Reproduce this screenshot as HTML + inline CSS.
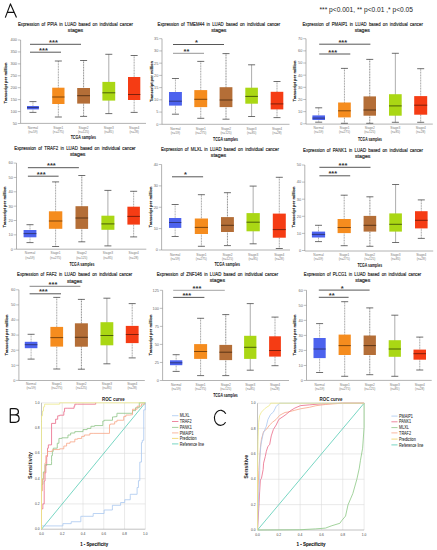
<!DOCTYPE html>
<html><head><meta charset="utf-8"><style>
html,body{margin:0;padding:0;background:#fff;}
svg{display:block;font-family:"Liberation Sans", sans-serif;}
</style></head><body>
<svg width="437" height="550" viewBox="0 0 437 550">
<rect width="437" height="550" fill="#fff"/>
<text transform="translate(17.9,25.5) scale(0.7239,1)" font-size="6.0" word-spacing="1.4" fill="#1a1a1a" stroke="#1a1a1a" stroke-width="0.16">Expression of PPIA in LUAD based on individual cancer</text>
<text transform="translate(75.5,32) scale(0.8687,1)" font-size="6.0" text-anchor="middle" fill="#1a1a1a" stroke="#1a1a1a" stroke-width="0.16">stages</text>
<path d="M20.6 40V123.4H146" stroke="#8a8a8a" stroke-width="0.65" fill="none"/>
<line x1="17.8" y1="40" x2="20.6" y2="40" stroke="#888" stroke-width="0.55"/>
<text x="17" y="41.35" font-size="3.9" text-anchor="end" fill="#6a6a6a">400</text>
<line x1="17.8" y1="51.93" x2="20.6" y2="51.93" stroke="#888" stroke-width="0.55"/>
<text x="17" y="53.28" font-size="3.9" text-anchor="end" fill="#6a6a6a">350</text>
<line x1="17.8" y1="63.86" x2="20.6" y2="63.86" stroke="#888" stroke-width="0.55"/>
<text x="17" y="65.21" font-size="3.9" text-anchor="end" fill="#6a6a6a">300</text>
<line x1="17.8" y1="75.79" x2="20.6" y2="75.79" stroke="#888" stroke-width="0.55"/>
<text x="17" y="77.14" font-size="3.9" text-anchor="end" fill="#6a6a6a">250</text>
<line x1="17.8" y1="87.71" x2="20.6" y2="87.71" stroke="#888" stroke-width="0.55"/>
<text x="17" y="89.06" font-size="3.9" text-anchor="end" fill="#6a6a6a">200</text>
<line x1="17.8" y1="99.64" x2="20.6" y2="99.64" stroke="#888" stroke-width="0.55"/>
<text x="17" y="100.99" font-size="3.9" text-anchor="end" fill="#6a6a6a">150</text>
<line x1="17.8" y1="111.57" x2="20.6" y2="111.57" stroke="#888" stroke-width="0.55"/>
<text x="17" y="112.92" font-size="3.9" text-anchor="end" fill="#6a6a6a">100</text>
<line x1="17.8" y1="123.5" x2="20.6" y2="123.5" stroke="#888" stroke-width="0.55"/>
<text x="17" y="124.85" font-size="3.9" text-anchor="end" fill="#6a6a6a">50</text>
<text transform="translate(7.2,83) rotate(-90)" font-size="4.4" font-weight="bold" text-anchor="middle" fill="#111" stroke="#111" stroke-width="0.12" textLength="41" lengthAdjust="spacingAndGlyphs">Transcript per million</text>
<line x1="30" y1="44.3" x2="81" y2="44.3" stroke="#444" stroke-width="0.9"/>
<text x="53.5" y="44.8" font-size="7.5" font-weight="bold" text-anchor="middle" fill="#333">***</text>
<line x1="30" y1="52.2" x2="61" y2="52.2" stroke="#444" stroke-width="0.9"/>
<text x="43.5" y="52.7" font-size="7.5" font-weight="bold" text-anchor="middle" fill="#333">***</text>
<line x1="32.95" y1="101.6" x2="32.95" y2="112.4" stroke="#888" stroke-width="0.7" stroke-dasharray="1 0.6"/>
<line x1="29.45" y1="101.6" x2="36.45" y2="101.6" stroke="#4a4a4a" stroke-width="0.8"/>
<line x1="29.45" y1="112.4" x2="36.45" y2="112.4" stroke="#4a4a4a" stroke-width="0.8"/>
<rect x="27" y="106" width="11.9" height="3.4" fill="#4c62ee"/>
<line x1="27" y1="107.6" x2="38.9" y2="107.6" stroke="#2a2f6a" stroke-width="0.85"/>
<text x="32.95" y="128.7" font-size="3.2" text-anchor="middle" fill="#7a7a7a">Normal</text>
<text x="32.95" y="132.6" font-size="3.2" text-anchor="middle" fill="#7a7a7a">(n=59)</text>
<line x1="58.35" y1="61" x2="58.35" y2="117" stroke="#777" stroke-width="0.7" stroke-dasharray="1 0.6"/>
<line x1="54.85" y1="61" x2="61.85" y2="61" stroke="#4a4a4a" stroke-width="0.8"/>
<line x1="54.85" y1="117" x2="61.85" y2="117" stroke="#4a4a4a" stroke-width="0.8"/>
<rect x="52.2" y="87.7" width="12.3" height="16.3" fill="#f58c1e"/>
<line x1="52.2" y1="97" x2="64.5" y2="97" stroke="#6a3a08" stroke-width="0.85"/>
<text x="58.35" y="128.7" font-size="3.2" text-anchor="middle" fill="#7a7a7a">Stage1</text>
<text x="58.35" y="132.6" font-size="3.2" text-anchor="middle" fill="#7a7a7a">(n=275)</text>
<line x1="83.6" y1="60.5" x2="83.6" y2="116.4" stroke="#555" stroke-width="0.7" stroke-dasharray="1 0.6"/>
<line x1="80.1" y1="60.5" x2="87.1" y2="60.5" stroke="#4a4a4a" stroke-width="0.8"/>
<line x1="80.1" y1="116.4" x2="87.1" y2="116.4" stroke="#4a4a4a" stroke-width="0.8"/>
<rect x="77.2" y="88" width="12.8" height="15.6" fill="#b46e37"/>
<line x1="77.2" y1="95.7" x2="90" y2="95.7" stroke="#4a2a10" stroke-width="0.85"/>
<text x="83.6" y="128.7" font-size="3.2" text-anchor="middle" fill="#7a7a7a">Stage2</text>
<text x="83.6" y="132.6" font-size="3.2" text-anchor="middle" fill="#7a7a7a">(n=125)</text>
<line x1="108.8" y1="54.3" x2="108.8" y2="113.6" stroke="#8a8a8a" stroke-width="0.7"/>
<line x1="105.3" y1="54.3" x2="112.3" y2="54.3" stroke="#4a4a4a" stroke-width="0.8"/>
<line x1="105.3" y1="113.6" x2="112.3" y2="113.6" stroke="#4a4a4a" stroke-width="0.8"/>
<rect x="102.4" y="81.9" width="12.8" height="18.7" fill="#aad714"/>
<line x1="102.4" y1="92.8" x2="115.2" y2="92.8" stroke="#3a4a05" stroke-width="0.85"/>
<text x="108.8" y="128.7" font-size="3.2" text-anchor="middle" fill="#7a7a7a">Stage3</text>
<text x="108.8" y="132.6" font-size="3.2" text-anchor="middle" fill="#7a7a7a">(n=85)</text>
<line x1="134.15" y1="55.5" x2="134.15" y2="112.4" stroke="#777" stroke-width="0.7" stroke-dasharray="1 0.6"/>
<line x1="130.65" y1="55.5" x2="137.65" y2="55.5" stroke="#4a4a4a" stroke-width="0.8"/>
<line x1="130.65" y1="112.4" x2="137.65" y2="112.4" stroke="#4a4a4a" stroke-width="0.8"/>
<rect x="128" y="77" width="12.3" height="23" fill="#f53c14"/>
<line x1="128" y1="94.5" x2="140.3" y2="94.5" stroke="#6a1a08" stroke-width="0.85"/>
<text x="134.15" y="128.7" font-size="3.2" text-anchor="middle" fill="#7a7a7a">Stage4</text>
<text x="134.15" y="132.6" font-size="3.2" text-anchor="middle" fill="#7a7a7a">(n=28)</text>
<text x="70.7" y="139.2" font-size="5" font-weight="bold" textLength="25.3" lengthAdjust="spacingAndGlyphs" fill="#111">TCGA samples</text>
<text transform="translate(157.5,25.5) scale(0.7234,1)" font-size="6.0" word-spacing="1.4" fill="#1a1a1a" stroke="#1a1a1a" stroke-width="0.16">Expression of TMEM44 in LUAD based on individual cancer</text>
<text transform="translate(218.8,31.6) scale(0.8681,1)" font-size="6.0" text-anchor="middle" fill="#1a1a1a" stroke="#1a1a1a" stroke-width="0.16">stages</text>
<path d="M162 38.7V124.3H289.5" stroke="#8a8a8a" stroke-width="0.65" fill="none"/>
<line x1="159.2" y1="38.7" x2="162" y2="38.7" stroke="#888" stroke-width="0.55"/>
<text x="158.4" y="40.05" font-size="3.9" text-anchor="end" fill="#6a6a6a">35</text>
<line x1="159.2" y1="50.93" x2="162" y2="50.93" stroke="#888" stroke-width="0.55"/>
<text x="158.4" y="52.28" font-size="3.9" text-anchor="end" fill="#6a6a6a">30</text>
<line x1="159.2" y1="63.16" x2="162" y2="63.16" stroke="#888" stroke-width="0.55"/>
<text x="158.4" y="64.51" font-size="3.9" text-anchor="end" fill="#6a6a6a">25</text>
<line x1="159.2" y1="75.39" x2="162" y2="75.39" stroke="#888" stroke-width="0.55"/>
<text x="158.4" y="76.74" font-size="3.9" text-anchor="end" fill="#6a6a6a">20</text>
<line x1="159.2" y1="87.61" x2="162" y2="87.61" stroke="#888" stroke-width="0.55"/>
<text x="158.4" y="88.96" font-size="3.9" text-anchor="end" fill="#6a6a6a">15</text>
<line x1="159.2" y1="99.84" x2="162" y2="99.84" stroke="#888" stroke-width="0.55"/>
<text x="158.4" y="101.19" font-size="3.9" text-anchor="end" fill="#6a6a6a">10</text>
<line x1="159.2" y1="112.07" x2="162" y2="112.07" stroke="#888" stroke-width="0.55"/>
<text x="158.4" y="113.42" font-size="3.9" text-anchor="end" fill="#6a6a6a">5</text>
<line x1="159.2" y1="124.3" x2="162" y2="124.3" stroke="#888" stroke-width="0.55"/>
<text x="158.4" y="125.65" font-size="3.9" text-anchor="end" fill="#6a6a6a">0</text>
<text transform="translate(152.8,81.5) rotate(-90)" font-size="4.4" font-weight="bold" text-anchor="middle" fill="#111" stroke="#111" stroke-width="0.12" textLength="41" lengthAdjust="spacingAndGlyphs">Transcript per million</text>
<line x1="173" y1="44.5" x2="224" y2="44.5" stroke="#444" stroke-width="0.9"/>
<text x="196.5" y="45" font-size="7.5" font-weight="bold" text-anchor="middle" fill="#333">*</text>
<line x1="173" y1="53.3" x2="204" y2="53.3" stroke="#8a8a8a" stroke-width="0.9"/>
<text x="186.5" y="53.8" font-size="7.5" font-weight="bold" text-anchor="middle" fill="#333">**</text>
<line x1="175.45" y1="78.5" x2="175.45" y2="114.2" stroke="#888" stroke-width="0.7" stroke-dasharray="1 0.6"/>
<line x1="171.95" y1="78.5" x2="178.95" y2="78.5" stroke="#4a4a4a" stroke-width="0.8"/>
<line x1="171.95" y1="114.2" x2="178.95" y2="114.2" stroke="#4a4a4a" stroke-width="0.8"/>
<rect x="169" y="92" width="12.9" height="13.6" fill="#4c62ee"/>
<line x1="169" y1="101.2" x2="181.9" y2="101.2" stroke="#2a2f6a" stroke-width="0.85"/>
<text x="175.45" y="129.6" font-size="3.2" text-anchor="middle" fill="#7a7a7a">Normal</text>
<text x="175.45" y="133.6" font-size="3.2" text-anchor="middle" fill="#7a7a7a">(n=59)</text>
<line x1="200.75" y1="61.4" x2="200.75" y2="118.3" stroke="#777" stroke-width="0.7" stroke-dasharray="1 0.6"/>
<line x1="197.25" y1="61.4" x2="204.25" y2="61.4" stroke="#4a4a4a" stroke-width="0.8"/>
<line x1="197.25" y1="118.3" x2="204.25" y2="118.3" stroke="#4a4a4a" stroke-width="0.8"/>
<rect x="194.3" y="90.1" width="12.9" height="17" fill="#f58c1e"/>
<line x1="194.3" y1="99.3" x2="207.2" y2="99.3" stroke="#6a3a08" stroke-width="0.85"/>
<text x="200.75" y="129.6" font-size="3.2" text-anchor="middle" fill="#7a7a7a">Stage1</text>
<text x="200.75" y="133.6" font-size="3.2" text-anchor="middle" fill="#7a7a7a">(n=275)</text>
<line x1="226" y1="53.6" x2="226" y2="119.2" stroke="#555" stroke-width="0.7" stroke-dasharray="1 0.6"/>
<line x1="222.5" y1="53.6" x2="229.5" y2="53.6" stroke="#4a4a4a" stroke-width="0.8"/>
<line x1="222.5" y1="119.2" x2="229.5" y2="119.2" stroke="#4a4a4a" stroke-width="0.8"/>
<rect x="219.6" y="87.2" width="12.8" height="19.9" fill="#b46e37"/>
<line x1="219.6" y1="100" x2="232.4" y2="100" stroke="#4a2a10" stroke-width="0.85"/>
<text x="226" y="129.6" font-size="3.2" text-anchor="middle" fill="#7a7a7a">Stage2</text>
<text x="226" y="133.6" font-size="3.2" text-anchor="middle" fill="#7a7a7a">(n=125)</text>
<line x1="251.6" y1="64.8" x2="251.6" y2="116.5" stroke="#8a8a8a" stroke-width="0.7"/>
<line x1="248.1" y1="64.8" x2="255.1" y2="64.8" stroke="#4a4a4a" stroke-width="0.8"/>
<line x1="248.1" y1="116.5" x2="255.1" y2="116.5" stroke="#4a4a4a" stroke-width="0.8"/>
<rect x="245.3" y="87.7" width="12.6" height="16" fill="#aad714"/>
<line x1="245.3" y1="96.4" x2="257.9" y2="96.4" stroke="#3a4a05" stroke-width="0.85"/>
<text x="251.6" y="129.6" font-size="3.2" text-anchor="middle" fill="#7a7a7a">Stage3</text>
<text x="251.6" y="133.6" font-size="3.2" text-anchor="middle" fill="#7a7a7a">(n=85)</text>
<line x1="277" y1="81.5" x2="277" y2="117.6" stroke="#777" stroke-width="0.7" stroke-dasharray="1 0.6"/>
<line x1="273.5" y1="81.5" x2="280.5" y2="81.5" stroke="#4a4a4a" stroke-width="0.8"/>
<line x1="273.5" y1="117.6" x2="280.5" y2="117.6" stroke="#4a4a4a" stroke-width="0.8"/>
<rect x="270.7" y="91.8" width="12.6" height="17.6" fill="#f53c14"/>
<line x1="270.7" y1="103.9" x2="283.3" y2="103.9" stroke="#6a1a08" stroke-width="0.85"/>
<text x="277" y="129.6" font-size="3.2" text-anchor="middle" fill="#7a7a7a">Stage4</text>
<text x="277" y="133.6" font-size="3.2" text-anchor="middle" fill="#7a7a7a">(n=28)</text>
<text x="213" y="140.6" font-size="5" font-weight="bold" textLength="25" lengthAdjust="spacingAndGlyphs" fill="#111">TCGA samples</text>
<text transform="translate(302.4,25.5) scale(0.7175,1)" font-size="6.0" word-spacing="1.4" fill="#1a1a1a" stroke="#1a1a1a" stroke-width="0.16">Expression of PMAIP1 in LUAD based on individual cancer</text>
<text transform="translate(362.3,31.8) scale(0.8610,1)" font-size="6.0" text-anchor="middle" fill="#1a1a1a" stroke="#1a1a1a" stroke-width="0.16">stages</text>
<path d="M306 38.7V124.1H432.8" stroke="#8a8a8a" stroke-width="0.65" fill="none"/>
<line x1="303.2" y1="38.7" x2="306" y2="38.7" stroke="#888" stroke-width="0.55"/>
<text x="302.4" y="40.05" font-size="3.9" text-anchor="end" fill="#6a6a6a">70</text>
<line x1="303.2" y1="50.86" x2="306" y2="50.86" stroke="#888" stroke-width="0.55"/>
<text x="302.4" y="52.21" font-size="3.9" text-anchor="end" fill="#6a6a6a">60</text>
<line x1="303.2" y1="63.01" x2="306" y2="63.01" stroke="#888" stroke-width="0.55"/>
<text x="302.4" y="64.36" font-size="3.9" text-anchor="end" fill="#6a6a6a">50</text>
<line x1="303.2" y1="75.17" x2="306" y2="75.17" stroke="#888" stroke-width="0.55"/>
<text x="302.4" y="76.52" font-size="3.9" text-anchor="end" fill="#6a6a6a">40</text>
<line x1="303.2" y1="87.33" x2="306" y2="87.33" stroke="#888" stroke-width="0.55"/>
<text x="302.4" y="88.68" font-size="3.9" text-anchor="end" fill="#6a6a6a">30</text>
<line x1="303.2" y1="99.49" x2="306" y2="99.49" stroke="#888" stroke-width="0.55"/>
<text x="302.4" y="100.84" font-size="3.9" text-anchor="end" fill="#6a6a6a">20</text>
<line x1="303.2" y1="111.64" x2="306" y2="111.64" stroke="#888" stroke-width="0.55"/>
<text x="302.4" y="112.99" font-size="3.9" text-anchor="end" fill="#6a6a6a">10</text>
<line x1="303.2" y1="123.8" x2="306" y2="123.8" stroke="#888" stroke-width="0.55"/>
<text x="302.4" y="125.15" font-size="3.9" text-anchor="end" fill="#6a6a6a">0</text>
<text transform="translate(296.2,81) rotate(-90)" font-size="4.4" font-weight="bold" text-anchor="middle" fill="#111" stroke="#111" stroke-width="0.12" textLength="41" lengthAdjust="spacingAndGlyphs">Transcript per million</text>
<line x1="319.2" y1="44.2" x2="370.4" y2="44.2" stroke="#444" stroke-width="0.9"/>
<text x="342.8" y="44.7" font-size="7.5" font-weight="bold" text-anchor="middle" fill="#333">***</text>
<line x1="319.2" y1="54" x2="350.3" y2="54" stroke="#444" stroke-width="0.9"/>
<text x="332.75" y="54.5" font-size="7.5" font-weight="bold" text-anchor="middle" fill="#333">***</text>
<line x1="318.7" y1="107.8" x2="318.7" y2="122.2" stroke="#888" stroke-width="0.7" stroke-dasharray="1 0.6"/>
<line x1="315.2" y1="107.8" x2="322.2" y2="107.8" stroke="#4a4a4a" stroke-width="0.8"/>
<line x1="315.2" y1="122.2" x2="322.2" y2="122.2" stroke="#4a4a4a" stroke-width="0.8"/>
<rect x="312.4" y="115.4" width="12.6" height="4.6" fill="#4c62ee"/>
<line x1="312.4" y1="118.1" x2="325" y2="118.1" stroke="#2a2f6a" stroke-width="0.85"/>
<text x="318.7" y="129" font-size="3.2" text-anchor="middle" fill="#7a7a7a">Normal</text>
<text x="318.7" y="133.3" font-size="3.2" text-anchor="middle" fill="#7a7a7a">(n=59)</text>
<line x1="344.45" y1="68.4" x2="344.45" y2="123.3" stroke="#777" stroke-width="0.7" stroke-dasharray="1 0.6"/>
<line x1="340.95" y1="68.4" x2="347.95" y2="68.4" stroke="#4a4a4a" stroke-width="0.8"/>
<line x1="340.95" y1="123.3" x2="347.95" y2="123.3" stroke="#4a4a4a" stroke-width="0.8"/>
<rect x="338.1" y="102.5" width="12.7" height="14.9" fill="#f58c1e"/>
<line x1="338.1" y1="110.8" x2="350.8" y2="110.8" stroke="#6a3a08" stroke-width="0.85"/>
<text x="344.45" y="129" font-size="3.2" text-anchor="middle" fill="#7a7a7a">Stage1</text>
<text x="344.45" y="133.3" font-size="3.2" text-anchor="middle" fill="#7a7a7a">(n=275)</text>
<line x1="369.75" y1="59.4" x2="369.75" y2="123.3" stroke="#555" stroke-width="0.7" stroke-dasharray="1 0.6"/>
<line x1="366.25" y1="59.4" x2="373.25" y2="59.4" stroke="#4a4a4a" stroke-width="0.8"/>
<line x1="366.25" y1="123.3" x2="373.25" y2="123.3" stroke="#4a4a4a" stroke-width="0.8"/>
<rect x="363.5" y="96.4" width="12.5" height="19.3" fill="#b46e37"/>
<line x1="363.5" y1="110" x2="376" y2="110" stroke="#4a2a10" stroke-width="0.85"/>
<text x="369.75" y="129" font-size="3.2" text-anchor="middle" fill="#7a7a7a">Stage2</text>
<text x="369.75" y="133.3" font-size="3.2" text-anchor="middle" fill="#7a7a7a">(n=125)</text>
<line x1="395.35" y1="53.3" x2="395.35" y2="122.3" stroke="#8a8a8a" stroke-width="0.7"/>
<line x1="391.85" y1="53.3" x2="398.85" y2="53.3" stroke="#4a4a4a" stroke-width="0.8"/>
<line x1="391.85" y1="122.3" x2="398.85" y2="122.3" stroke="#4a4a4a" stroke-width="0.8"/>
<rect x="389" y="94.2" width="12.7" height="21.5" fill="#aad714"/>
<line x1="389" y1="105.9" x2="401.7" y2="105.9" stroke="#3a4a05" stroke-width="0.85"/>
<text x="395.35" y="129" font-size="3.2" text-anchor="middle" fill="#7a7a7a">Stage3</text>
<text x="395.35" y="133.3" font-size="3.2" text-anchor="middle" fill="#7a7a7a">(n=85)</text>
<line x1="420.7" y1="68.7" x2="420.7" y2="122.3" stroke="#777" stroke-width="0.7" stroke-dasharray="1 0.6"/>
<line x1="417.2" y1="68.7" x2="424.2" y2="68.7" stroke="#4a4a4a" stroke-width="0.8"/>
<line x1="417.2" y1="122.3" x2="424.2" y2="122.3" stroke="#4a4a4a" stroke-width="0.8"/>
<rect x="414.2" y="96.1" width="13" height="18.6" fill="#f53c14"/>
<line x1="414.2" y1="105.2" x2="427.2" y2="105.2" stroke="#6a1a08" stroke-width="0.85"/>
<text x="420.7" y="129" font-size="3.2" text-anchor="middle" fill="#7a7a7a">Stage4</text>
<text x="420.7" y="133.3" font-size="3.2" text-anchor="middle" fill="#7a7a7a">(n=28)</text>
<text x="358" y="140.7" font-size="5" font-weight="bold" textLength="24" lengthAdjust="spacingAndGlyphs" fill="#111">TCGA samples</text>
<text transform="translate(14.2,150.1) scale(0.7371,1)" font-size="6.0" word-spacing="1.4" fill="#1a1a1a" stroke="#1a1a1a" stroke-width="0.16">Expression of TRAF2 in LUAD based on individual cancer</text>
<text transform="translate(77.7,156) scale(0.8846,1)" font-size="6.0" text-anchor="middle" fill="#1a1a1a" stroke="#1a1a1a" stroke-width="0.16">stages</text>
<path d="M16.5 163.1V249.2H146.3" stroke="#8a8a8a" stroke-width="0.65" fill="none"/>
<line x1="13.7" y1="163.1" x2="16.5" y2="163.1" stroke="#888" stroke-width="0.55"/>
<text x="12.9" y="164.45" font-size="3.9" text-anchor="end" fill="#6a6a6a">60</text>
<line x1="13.7" y1="177.45" x2="16.5" y2="177.45" stroke="#888" stroke-width="0.55"/>
<text x="12.9" y="178.8" font-size="3.9" text-anchor="end" fill="#6a6a6a">50</text>
<line x1="13.7" y1="191.8" x2="16.5" y2="191.8" stroke="#888" stroke-width="0.55"/>
<text x="12.9" y="193.15" font-size="3.9" text-anchor="end" fill="#6a6a6a">40</text>
<line x1="13.7" y1="206.15" x2="16.5" y2="206.15" stroke="#888" stroke-width="0.55"/>
<text x="12.9" y="207.5" font-size="3.9" text-anchor="end" fill="#6a6a6a">30</text>
<line x1="13.7" y1="220.5" x2="16.5" y2="220.5" stroke="#888" stroke-width="0.55"/>
<text x="12.9" y="221.85" font-size="3.9" text-anchor="end" fill="#6a6a6a">20</text>
<line x1="13.7" y1="234.85" x2="16.5" y2="234.85" stroke="#888" stroke-width="0.55"/>
<text x="12.9" y="236.2" font-size="3.9" text-anchor="end" fill="#6a6a6a">10</text>
<line x1="13.7" y1="249.2" x2="16.5" y2="249.2" stroke="#888" stroke-width="0.55"/>
<text x="12.9" y="250.55" font-size="3.9" text-anchor="end" fill="#6a6a6a">0</text>
<text transform="translate(6.4,207) rotate(-90)" font-size="4.4" font-weight="bold" text-anchor="middle" fill="#111" stroke="#111" stroke-width="0.12" textLength="41" lengthAdjust="spacingAndGlyphs">Transcript per million</text>
<line x1="27.9" y1="167.7" x2="78.9" y2="167.7" stroke="#444" stroke-width="0.9"/>
<text x="51.4" y="168.2" font-size="7.5" font-weight="bold" text-anchor="middle" fill="#333">***</text>
<line x1="27.9" y1="176.2" x2="58.6" y2="176.2" stroke="#444" stroke-width="0.9"/>
<text x="41.25" y="176.7" font-size="7.5" font-weight="bold" text-anchor="middle" fill="#333">***</text>
<line x1="30" y1="224.7" x2="30" y2="242.6" stroke="#888" stroke-width="0.7" stroke-dasharray="1 0.6"/>
<line x1="26.5" y1="224.7" x2="33.5" y2="224.7" stroke="#4a4a4a" stroke-width="0.8"/>
<line x1="26.5" y1="242.6" x2="33.5" y2="242.6" stroke="#4a4a4a" stroke-width="0.8"/>
<rect x="23.6" y="230" width="12.8" height="7.3" fill="#4c62ee"/>
<line x1="23.6" y1="233.6" x2="36.4" y2="233.6" stroke="#2a2f6a" stroke-width="0.85"/>
<text x="30" y="254.3" font-size="3.2" text-anchor="middle" fill="#7a7a7a">Normal</text>
<text x="30" y="258.7" font-size="3.2" text-anchor="middle" fill="#7a7a7a">(n=59)</text>
<line x1="55.6" y1="181.9" x2="55.6" y2="246.5" stroke="#777" stroke-width="0.7" stroke-dasharray="1 0.6"/>
<line x1="52.1" y1="181.9" x2="59.1" y2="181.9" stroke="#4a4a4a" stroke-width="0.8"/>
<line x1="52.1" y1="246.5" x2="59.1" y2="246.5" stroke="#4a4a4a" stroke-width="0.8"/>
<rect x="48.9" y="211.3" width="13.4" height="17.5" fill="#f58c1e"/>
<line x1="48.9" y1="221" x2="62.3" y2="221" stroke="#6a3a08" stroke-width="0.85"/>
<text x="55.6" y="254.3" font-size="3.2" text-anchor="middle" fill="#7a7a7a">Stage1</text>
<text x="55.6" y="258.7" font-size="3.2" text-anchor="middle" fill="#7a7a7a">(n=275)</text>
<line x1="81.8" y1="175.5" x2="81.8" y2="241.8" stroke="#555" stroke-width="0.7" stroke-dasharray="1 0.6"/>
<line x1="78.3" y1="175.5" x2="85.3" y2="175.5" stroke="#4a4a4a" stroke-width="0.8"/>
<line x1="78.3" y1="241.8" x2="85.3" y2="241.8" stroke="#4a4a4a" stroke-width="0.8"/>
<rect x="75.5" y="206.2" width="12.6" height="22.7" fill="#b46e37"/>
<line x1="75.5" y1="218" x2="88.1" y2="218" stroke="#4a2a10" stroke-width="0.85"/>
<text x="81.8" y="254.3" font-size="3.2" text-anchor="middle" fill="#7a7a7a">Stage2</text>
<text x="81.8" y="258.7" font-size="3.2" text-anchor="middle" fill="#7a7a7a">(n=125)</text>
<line x1="107.9" y1="190.4" x2="107.9" y2="245.9" stroke="#8a8a8a" stroke-width="0.7"/>
<line x1="104.4" y1="190.4" x2="111.4" y2="190.4" stroke="#4a4a4a" stroke-width="0.8"/>
<line x1="104.4" y1="245.9" x2="111.4" y2="245.9" stroke="#4a4a4a" stroke-width="0.8"/>
<rect x="101.4" y="215.7" width="13" height="14.1" fill="#aad714"/>
<line x1="101.4" y1="223.9" x2="114.4" y2="223.9" stroke="#3a4a05" stroke-width="0.85"/>
<text x="107.9" y="254.3" font-size="3.2" text-anchor="middle" fill="#7a7a7a">Stage3</text>
<text x="107.9" y="258.7" font-size="3.2" text-anchor="middle" fill="#7a7a7a">(n=85)</text>
<line x1="133.65" y1="191.3" x2="133.65" y2="236.9" stroke="#777" stroke-width="0.7" stroke-dasharray="1 0.6"/>
<line x1="130.15" y1="191.3" x2="137.15" y2="191.3" stroke="#4a4a4a" stroke-width="0.8"/>
<line x1="130.15" y1="236.9" x2="137.15" y2="236.9" stroke="#4a4a4a" stroke-width="0.8"/>
<rect x="127.4" y="206.7" width="12.5" height="17.9" fill="#f53c14"/>
<line x1="127.4" y1="216.4" x2="139.9" y2="216.4" stroke="#6a1a08" stroke-width="0.85"/>
<text x="133.65" y="254.3" font-size="3.2" text-anchor="middle" fill="#7a7a7a">Stage4</text>
<text x="133.65" y="258.7" font-size="3.2" text-anchor="middle" fill="#7a7a7a">(n=28)</text>
<text x="69.4" y="265.6" font-size="5" font-weight="bold" textLength="25.1" lengthAdjust="spacingAndGlyphs" fill="#111">TCGA samples</text>
<text transform="translate(160.9,151.4) scale(0.7318,1)" font-size="6.0" word-spacing="1.4" fill="#1a1a1a" stroke="#1a1a1a" stroke-width="0.16">Expression of MLXL in LUAD based on individual cancer</text>
<text transform="translate(218.5,157.3) scale(0.8781,1)" font-size="6.0" text-anchor="middle" fill="#1a1a1a" stroke="#1a1a1a" stroke-width="0.16">stages</text>
<path d="M161.6 164.5V250H290" stroke="#8a8a8a" stroke-width="0.65" fill="none"/>
<line x1="158.8" y1="164.5" x2="161.6" y2="164.5" stroke="#888" stroke-width="0.55"/>
<text x="158" y="165.85" font-size="3.9" text-anchor="end" fill="#6a6a6a">40</text>
<line x1="158.8" y1="185.88" x2="161.6" y2="185.88" stroke="#888" stroke-width="0.55"/>
<text x="158" y="187.22" font-size="3.9" text-anchor="end" fill="#6a6a6a">30</text>
<line x1="158.8" y1="207.25" x2="161.6" y2="207.25" stroke="#888" stroke-width="0.55"/>
<text x="158" y="208.6" font-size="3.9" text-anchor="end" fill="#6a6a6a">20</text>
<line x1="158.8" y1="228.62" x2="161.6" y2="228.62" stroke="#888" stroke-width="0.55"/>
<text x="158" y="229.97" font-size="3.9" text-anchor="end" fill="#6a6a6a">10</text>
<line x1="158.8" y1="250" x2="161.6" y2="250" stroke="#888" stroke-width="0.55"/>
<text x="158" y="251.35" font-size="3.9" text-anchor="end" fill="#6a6a6a">0</text>
<text transform="translate(151.9,207) rotate(-90)" font-size="4.4" font-weight="bold" text-anchor="middle" fill="#111" stroke="#111" stroke-width="0.12" textLength="41" lengthAdjust="spacingAndGlyphs">Transcript per million</text>
<line x1="172" y1="176.8" x2="203.1" y2="176.8" stroke="#444" stroke-width="0.9"/>
<text x="185.55" y="177.3" font-size="7.5" font-weight="bold" text-anchor="middle" fill="#333">*</text>
<line x1="175.15" y1="204.5" x2="175.15" y2="236.5" stroke="#888" stroke-width="0.7" stroke-dasharray="1 0.6"/>
<line x1="171.65" y1="204.5" x2="178.65" y2="204.5" stroke="#4a4a4a" stroke-width="0.8"/>
<line x1="171.65" y1="236.5" x2="178.65" y2="236.5" stroke="#4a4a4a" stroke-width="0.8"/>
<rect x="169" y="218" width="12.3" height="9.9" fill="#4c62ee"/>
<line x1="169" y1="222.5" x2="181.3" y2="222.5" stroke="#2a2f6a" stroke-width="0.85"/>
<text x="175.15" y="255.7" font-size="3.2" text-anchor="middle" fill="#7a7a7a">Normal</text>
<text x="175.15" y="259.6" font-size="3.2" text-anchor="middle" fill="#7a7a7a">(n=59)</text>
<line x1="201.4" y1="194.7" x2="201.4" y2="246.3" stroke="#777" stroke-width="0.7" stroke-dasharray="1 0.6"/>
<line x1="197.9" y1="194.7" x2="204.9" y2="194.7" stroke="#4a4a4a" stroke-width="0.8"/>
<line x1="197.9" y1="246.3" x2="204.9" y2="246.3" stroke="#4a4a4a" stroke-width="0.8"/>
<rect x="194.8" y="218.5" width="13.2" height="15.5" fill="#f58c1e"/>
<line x1="194.8" y1="227.4" x2="208" y2="227.4" stroke="#6a3a08" stroke-width="0.85"/>
<text x="201.4" y="255.7" font-size="3.2" text-anchor="middle" fill="#7a7a7a">Stage1</text>
<text x="201.4" y="259.6" font-size="3.2" text-anchor="middle" fill="#7a7a7a">(n=275)</text>
<line x1="227.45" y1="192.7" x2="227.45" y2="245.6" stroke="#555" stroke-width="0.7" stroke-dasharray="1 0.6"/>
<line x1="223.95" y1="192.7" x2="230.95" y2="192.7" stroke="#4a4a4a" stroke-width="0.8"/>
<line x1="223.95" y1="245.6" x2="230.95" y2="245.6" stroke="#4a4a4a" stroke-width="0.8"/>
<rect x="221" y="217.1" width="12.9" height="14.9" fill="#b46e37"/>
<line x1="221" y1="225.3" x2="233.9" y2="225.3" stroke="#4a2a10" stroke-width="0.85"/>
<text x="227.45" y="255.7" font-size="3.2" text-anchor="middle" fill="#7a7a7a">Stage2</text>
<text x="227.45" y="259.6" font-size="3.2" text-anchor="middle" fill="#7a7a7a">(n=125)</text>
<line x1="253.15" y1="186.1" x2="253.15" y2="243.8" stroke="#8a8a8a" stroke-width="0.7"/>
<line x1="249.65" y1="186.1" x2="256.65" y2="186.1" stroke="#4a4a4a" stroke-width="0.8"/>
<line x1="249.65" y1="243.8" x2="256.65" y2="243.8" stroke="#4a4a4a" stroke-width="0.8"/>
<rect x="246.5" y="213.1" width="13.3" height="18.2" fill="#aad714"/>
<line x1="246.5" y1="222.2" x2="259.8" y2="222.2" stroke="#3a4a05" stroke-width="0.85"/>
<text x="253.15" y="255.7" font-size="3.2" text-anchor="middle" fill="#7a7a7a">Stage3</text>
<text x="253.15" y="259.6" font-size="3.2" text-anchor="middle" fill="#7a7a7a">(n=85)</text>
<line x1="279.3" y1="177.3" x2="279.3" y2="248.5" stroke="#777" stroke-width="0.7" stroke-dasharray="1 0.6"/>
<line x1="275.8" y1="177.3" x2="282.8" y2="177.3" stroke="#4a4a4a" stroke-width="0.8"/>
<line x1="275.8" y1="248.5" x2="282.8" y2="248.5" stroke="#4a4a4a" stroke-width="0.8"/>
<rect x="272.8" y="213.6" width="13" height="24.1" fill="#f53c14"/>
<line x1="272.8" y1="229.6" x2="285.8" y2="229.6" stroke="#6a1a08" stroke-width="0.85"/>
<text x="279.3" y="255.7" font-size="3.2" text-anchor="middle" fill="#7a7a7a">Stage4</text>
<text x="279.3" y="259.6" font-size="3.2" text-anchor="middle" fill="#7a7a7a">(n=28)</text>
<text x="214.4" y="265.6" font-size="5" font-weight="bold" textLength="25.6" lengthAdjust="spacingAndGlyphs" fill="#111">TCGA samples</text>
<text transform="translate(303.1,151.8) scale(0.7271,1)" font-size="6.0" word-spacing="1.4" fill="#1a1a1a" stroke="#1a1a1a" stroke-width="0.16">Expression of PANK1 in LUAD based on individual cancer</text>
<text transform="translate(362.7,158) scale(0.8726,1)" font-size="6.0" text-anchor="middle" fill="#1a1a1a" stroke="#1a1a1a" stroke-width="0.16">stages</text>
<path d="M304.8 165V251H433.2" stroke="#8a8a8a" stroke-width="0.65" fill="none"/>
<line x1="302" y1="165" x2="304.8" y2="165" stroke="#888" stroke-width="0.55"/>
<text x="301.2" y="166.35" font-size="3.9" text-anchor="end" fill="#6a6a6a">50</text>
<line x1="302" y1="182.1" x2="304.8" y2="182.1" stroke="#888" stroke-width="0.55"/>
<text x="301.2" y="183.45" font-size="3.9" text-anchor="end" fill="#6a6a6a">40</text>
<line x1="302" y1="199.2" x2="304.8" y2="199.2" stroke="#888" stroke-width="0.55"/>
<text x="301.2" y="200.55" font-size="3.9" text-anchor="end" fill="#6a6a6a">30</text>
<line x1="302" y1="216.3" x2="304.8" y2="216.3" stroke="#888" stroke-width="0.55"/>
<text x="301.2" y="217.65" font-size="3.9" text-anchor="end" fill="#6a6a6a">20</text>
<line x1="302" y1="233.4" x2="304.8" y2="233.4" stroke="#888" stroke-width="0.55"/>
<text x="301.2" y="234.75" font-size="3.9" text-anchor="end" fill="#6a6a6a">10</text>
<line x1="302" y1="250.5" x2="304.8" y2="250.5" stroke="#888" stroke-width="0.55"/>
<text x="301.2" y="251.85" font-size="3.9" text-anchor="end" fill="#6a6a6a">0</text>
<text transform="translate(294.9,207) rotate(-90)" font-size="4.4" font-weight="bold" text-anchor="middle" fill="#111" stroke="#111" stroke-width="0.12" textLength="41" lengthAdjust="spacingAndGlyphs">Transcript per million</text>
<line x1="319.4" y1="167.3" x2="370.5" y2="167.3" stroke="#444" stroke-width="0.9"/>
<text x="342.95" y="167.8" font-size="7.5" font-weight="bold" text-anchor="middle" fill="#333">***</text>
<line x1="319.4" y1="175.8" x2="350.2" y2="175.8" stroke="#444" stroke-width="0.9"/>
<text x="332.8" y="176.3" font-size="7.5" font-weight="bold" text-anchor="middle" fill="#333">***</text>
<line x1="318.5" y1="225.3" x2="318.5" y2="241.6" stroke="#888" stroke-width="0.7" stroke-dasharray="1 0.6"/>
<line x1="315" y1="225.3" x2="322" y2="225.3" stroke="#4a4a4a" stroke-width="0.8"/>
<line x1="315" y1="241.6" x2="322" y2="241.6" stroke="#4a4a4a" stroke-width="0.8"/>
<rect x="311.9" y="231.6" width="13.2" height="5.9" fill="#4c62ee"/>
<line x1="311.9" y1="234.4" x2="325.1" y2="234.4" stroke="#2a2f6a" stroke-width="0.85"/>
<text x="318.5" y="255.7" font-size="3.2" text-anchor="middle" fill="#7a7a7a">Normal</text>
<text x="318.5" y="259.8" font-size="3.2" text-anchor="middle" fill="#7a7a7a">(n=59)</text>
<line x1="344.2" y1="195.2" x2="344.2" y2="245.7" stroke="#777" stroke-width="0.7" stroke-dasharray="1 0.6"/>
<line x1="340.7" y1="195.2" x2="347.7" y2="195.2" stroke="#4a4a4a" stroke-width="0.8"/>
<line x1="340.7" y1="245.7" x2="347.7" y2="245.7" stroke="#4a4a4a" stroke-width="0.8"/>
<rect x="337.6" y="219" width="13.2" height="14.1" fill="#f58c1e"/>
<line x1="337.6" y1="227.5" x2="350.8" y2="227.5" stroke="#6a3a08" stroke-width="0.85"/>
<text x="344.2" y="255.7" font-size="3.2" text-anchor="middle" fill="#7a7a7a">Stage1</text>
<text x="344.2" y="259.8" font-size="3.2" text-anchor="middle" fill="#7a7a7a">(n=275)</text>
<line x1="369.9" y1="196.8" x2="369.9" y2="246.3" stroke="#555" stroke-width="0.7" stroke-dasharray="1 0.6"/>
<line x1="366.4" y1="196.8" x2="373.4" y2="196.8" stroke="#4a4a4a" stroke-width="0.8"/>
<line x1="366.4" y1="246.3" x2="373.4" y2="246.3" stroke="#4a4a4a" stroke-width="0.8"/>
<rect x="363.6" y="215.9" width="12.6" height="15.7" fill="#b46e37"/>
<line x1="363.6" y1="225.3" x2="376.2" y2="225.3" stroke="#4a2a10" stroke-width="0.85"/>
<text x="369.9" y="255.7" font-size="3.2" text-anchor="middle" fill="#7a7a7a">Stage2</text>
<text x="369.9" y="259.8" font-size="3.2" text-anchor="middle" fill="#7a7a7a">(n=125)</text>
<line x1="395.6" y1="184.5" x2="395.6" y2="242.5" stroke="#8a8a8a" stroke-width="0.7"/>
<line x1="392.1" y1="184.5" x2="399.1" y2="184.5" stroke="#4a4a4a" stroke-width="0.8"/>
<line x1="392.1" y1="242.5" x2="399.1" y2="242.5" stroke="#4a4a4a" stroke-width="0.8"/>
<rect x="389.3" y="213.4" width="12.6" height="18.2" fill="#aad714"/>
<line x1="389.3" y1="224.3" x2="401.9" y2="224.3" stroke="#3a4a05" stroke-width="0.85"/>
<text x="395.6" y="255.7" font-size="3.2" text-anchor="middle" fill="#7a7a7a">Stage3</text>
<text x="395.6" y="259.8" font-size="3.2" text-anchor="middle" fill="#7a7a7a">(n=85)</text>
<line x1="421.3" y1="199.9" x2="421.3" y2="238.4" stroke="#777" stroke-width="0.7" stroke-dasharray="1 0.6"/>
<line x1="417.8" y1="199.9" x2="424.8" y2="199.9" stroke="#4a4a4a" stroke-width="0.8"/>
<line x1="417.8" y1="238.4" x2="424.8" y2="238.4" stroke="#4a4a4a" stroke-width="0.8"/>
<rect x="415" y="211.2" width="12.6" height="17.2" fill="#f53c14"/>
<line x1="415" y1="220.3" x2="427.6" y2="220.3" stroke="#6a1a08" stroke-width="0.85"/>
<text x="421.3" y="255.7" font-size="3.2" text-anchor="middle" fill="#7a7a7a">Stage4</text>
<text x="421.3" y="259.8" font-size="3.2" text-anchor="middle" fill="#7a7a7a">(n=28)</text>
<text x="357.4" y="266.7" font-size="5" font-weight="bold" textLength="24.7" lengthAdjust="spacingAndGlyphs" fill="#111">TCGA samples</text>
<text transform="translate(17,276) scale(0.7207,1)" font-size="6.0" word-spacing="1.4" fill="#1a1a1a" stroke="#1a1a1a" stroke-width="0.16">Expression of FAF2 in LUAD based on individual cancer</text>
<text transform="translate(74.5,282.5) scale(0.8648,1)" font-size="6.0" text-anchor="middle" fill="#1a1a1a" stroke="#1a1a1a" stroke-width="0.16">stages</text>
<path d="M18.9 289.8V380.5H144.8" stroke="#8a8a8a" stroke-width="0.65" fill="none"/>
<line x1="16.1" y1="289.8" x2="18.9" y2="289.8" stroke="#888" stroke-width="0.55"/>
<text x="15.3" y="291.15" font-size="3.9" text-anchor="end" fill="#6a6a6a">60</text>
<line x1="16.1" y1="304.9" x2="18.9" y2="304.9" stroke="#888" stroke-width="0.55"/>
<text x="15.3" y="306.25" font-size="3.9" text-anchor="end" fill="#6a6a6a">50</text>
<line x1="16.1" y1="320" x2="18.9" y2="320" stroke="#888" stroke-width="0.55"/>
<text x="15.3" y="321.35" font-size="3.9" text-anchor="end" fill="#6a6a6a">40</text>
<line x1="16.1" y1="335.1" x2="18.9" y2="335.1" stroke="#888" stroke-width="0.55"/>
<text x="15.3" y="336.45" font-size="3.9" text-anchor="end" fill="#6a6a6a">30</text>
<line x1="16.1" y1="350.2" x2="18.9" y2="350.2" stroke="#888" stroke-width="0.55"/>
<text x="15.3" y="351.55" font-size="3.9" text-anchor="end" fill="#6a6a6a">20</text>
<line x1="16.1" y1="365.3" x2="18.9" y2="365.3" stroke="#888" stroke-width="0.55"/>
<text x="15.3" y="366.65" font-size="3.9" text-anchor="end" fill="#6a6a6a">10</text>
<line x1="16.1" y1="380.4" x2="18.9" y2="380.4" stroke="#888" stroke-width="0.55"/>
<text x="15.3" y="381.75" font-size="3.9" text-anchor="end" fill="#6a6a6a">0</text>
<text transform="translate(8.4,335) rotate(-90)" font-size="4.4" font-weight="bold" text-anchor="middle" fill="#111" stroke="#111" stroke-width="0.12" textLength="41" lengthAdjust="spacingAndGlyphs">Transcript per million</text>
<line x1="29.6" y1="286.3" x2="80.4" y2="286.3" stroke="#777" stroke-width="0.9"/>
<text x="53" y="286.8" font-size="7.5" font-weight="bold" text-anchor="middle" fill="#333">***</text>
<line x1="29.6" y1="293.8" x2="61" y2="293.8" stroke="#444" stroke-width="0.9"/>
<text x="43.3" y="294.3" font-size="7.5" font-weight="bold" text-anchor="middle" fill="#333">***</text>
<line x1="31.1" y1="334.3" x2="31.1" y2="359.1" stroke="#888" stroke-width="0.7" stroke-dasharray="1 0.6"/>
<line x1="27.6" y1="334.3" x2="34.6" y2="334.3" stroke="#4a4a4a" stroke-width="0.8"/>
<line x1="27.6" y1="359.1" x2="34.6" y2="359.1" stroke="#4a4a4a" stroke-width="0.8"/>
<rect x="24.8" y="341.8" width="12.6" height="6.4" fill="#4c62ee"/>
<line x1="24.8" y1="344.7" x2="37.4" y2="344.7" stroke="#2a2f6a" stroke-width="0.85"/>
<text x="31.1" y="385.4" font-size="3.2" text-anchor="middle" fill="#7a7a7a">Normal</text>
<text x="31.1" y="389.4" font-size="3.2" text-anchor="middle" fill="#7a7a7a">(n=59)</text>
<line x1="56.75" y1="297.4" x2="56.75" y2="369" stroke="#777" stroke-width="0.7" stroke-dasharray="1 0.6"/>
<line x1="53.25" y1="297.4" x2="60.25" y2="297.4" stroke="#4a4a4a" stroke-width="0.8"/>
<line x1="53.25" y1="369" x2="60.25" y2="369" stroke="#4a4a4a" stroke-width="0.8"/>
<rect x="50.4" y="326.9" width="12.7" height="19.7" fill="#f58c1e"/>
<line x1="50.4" y1="337.6" x2="63.1" y2="337.6" stroke="#6a3a08" stroke-width="0.85"/>
<text x="56.75" y="385.4" font-size="3.2" text-anchor="middle" fill="#7a7a7a">Stage1</text>
<text x="56.75" y="389.4" font-size="3.2" text-anchor="middle" fill="#7a7a7a">(n=275)</text>
<line x1="81.4" y1="299.4" x2="81.4" y2="369.2" stroke="#555" stroke-width="0.7" stroke-dasharray="1 0.6"/>
<line x1="77.9" y1="299.4" x2="84.9" y2="299.4" stroke="#4a4a4a" stroke-width="0.8"/>
<line x1="77.9" y1="369.2" x2="84.9" y2="369.2" stroke="#4a4a4a" stroke-width="0.8"/>
<rect x="74.9" y="323.3" width="13" height="23.4" fill="#b46e37"/>
<line x1="74.9" y1="337.3" x2="87.9" y2="337.3" stroke="#4a2a10" stroke-width="0.85"/>
<text x="81.4" y="385.4" font-size="3.2" text-anchor="middle" fill="#7a7a7a">Stage2</text>
<text x="81.4" y="389.4" font-size="3.2" text-anchor="middle" fill="#7a7a7a">(n=125)</text>
<line x1="106.9" y1="298.2" x2="106.9" y2="363.8" stroke="#8a8a8a" stroke-width="0.7"/>
<line x1="103.4" y1="298.2" x2="110.4" y2="298.2" stroke="#4a4a4a" stroke-width="0.8"/>
<line x1="103.4" y1="363.8" x2="110.4" y2="363.8" stroke="#4a4a4a" stroke-width="0.8"/>
<rect x="100.5" y="322.2" width="12.8" height="23.1" fill="#aad714"/>
<line x1="100.5" y1="335.5" x2="113.3" y2="335.5" stroke="#3a4a05" stroke-width="0.85"/>
<text x="106.9" y="385.4" font-size="3.2" text-anchor="middle" fill="#7a7a7a">Stage3</text>
<text x="106.9" y="389.4" font-size="3.2" text-anchor="middle" fill="#7a7a7a">(n=85)</text>
<line x1="132.2" y1="303.6" x2="132.2" y2="357.9" stroke="#777" stroke-width="0.7" stroke-dasharray="1 0.6"/>
<line x1="128.7" y1="303.6" x2="135.7" y2="303.6" stroke="#4a4a4a" stroke-width="0.8"/>
<line x1="128.7" y1="357.9" x2="135.7" y2="357.9" stroke="#4a4a4a" stroke-width="0.8"/>
<rect x="125.8" y="325.9" width="12.8" height="17.2" fill="#f53c14"/>
<line x1="125.8" y1="334.5" x2="138.6" y2="334.5" stroke="#6a1a08" stroke-width="0.85"/>
<text x="132.2" y="385.4" font-size="3.2" text-anchor="middle" fill="#7a7a7a">Stage4</text>
<text x="132.2" y="389.4" font-size="3.2" text-anchor="middle" fill="#7a7a7a">(n=28)</text>
<text transform="translate(156.7,275.9) scale(0.7249,1)" font-size="6.0" word-spacing="1.4" fill="#1a1a1a" stroke="#1a1a1a" stroke-width="0.16">Expression of ZNF146 in LUAD based on individual cancer</text>
<text transform="translate(217.4,282.3) scale(0.8699,1)" font-size="6.0" text-anchor="middle" fill="#1a1a1a" stroke="#1a1a1a" stroke-width="0.16">stages</text>
<path d="M162.6 290.3V380.5H289" stroke="#8a8a8a" stroke-width="0.65" fill="none"/>
<line x1="159.8" y1="290.3" x2="162.6" y2="290.3" stroke="#888" stroke-width="0.55"/>
<text x="159" y="291.65" font-size="3.9" text-anchor="end" fill="#6a6a6a">125</text>
<line x1="159.8" y1="308.34" x2="162.6" y2="308.34" stroke="#888" stroke-width="0.55"/>
<text x="159" y="309.69" font-size="3.9" text-anchor="end" fill="#6a6a6a">100</text>
<line x1="159.8" y1="326.38" x2="162.6" y2="326.38" stroke="#888" stroke-width="0.55"/>
<text x="159" y="327.73" font-size="3.9" text-anchor="end" fill="#6a6a6a">75</text>
<line x1="159.8" y1="344.42" x2="162.6" y2="344.42" stroke="#888" stroke-width="0.55"/>
<text x="159" y="345.77" font-size="3.9" text-anchor="end" fill="#6a6a6a">50</text>
<line x1="159.8" y1="362.46" x2="162.6" y2="362.46" stroke="#888" stroke-width="0.55"/>
<text x="159" y="363.81" font-size="3.9" text-anchor="end" fill="#6a6a6a">25</text>
<line x1="159.8" y1="380.5" x2="162.6" y2="380.5" stroke="#888" stroke-width="0.55"/>
<text x="159" y="381.85" font-size="3.9" text-anchor="end" fill="#6a6a6a">0</text>
<text transform="translate(151.9,335) rotate(-90)" font-size="4.4" font-weight="bold" text-anchor="middle" fill="#111" stroke="#111" stroke-width="0.12" textLength="41" lengthAdjust="spacingAndGlyphs">Transcript per million</text>
<line x1="173.2" y1="290.3" x2="224.8" y2="290.3" stroke="#9a9a9a" stroke-width="0.9"/>
<text x="197" y="290.8" font-size="7.5" font-weight="bold" text-anchor="middle" fill="#333">***</text>
<line x1="173.2" y1="297.4" x2="204.4" y2="297.4" stroke="#444" stroke-width="0.9"/>
<text x="186.8" y="297.9" font-size="7.5" font-weight="bold" text-anchor="middle" fill="#333">***</text>
<line x1="176.15" y1="354.7" x2="176.15" y2="371.4" stroke="#888" stroke-width="0.7" stroke-dasharray="1 0.6"/>
<line x1="172.65" y1="354.7" x2="179.65" y2="354.7" stroke="#4a4a4a" stroke-width="0.8"/>
<line x1="172.65" y1="371.4" x2="179.65" y2="371.4" stroke="#4a4a4a" stroke-width="0.8"/>
<rect x="170" y="360.3" width="12.3" height="4.9" fill="#4c62ee"/>
<line x1="170" y1="362.8" x2="182.3" y2="362.8" stroke="#2a2f6a" stroke-width="0.85"/>
<text x="176.15" y="385.7" font-size="3.2" text-anchor="middle" fill="#7a7a7a">Normal</text>
<text x="176.15" y="389.6" font-size="3.2" text-anchor="middle" fill="#7a7a7a">(n=59)</text>
<line x1="200.6" y1="318.3" x2="200.6" y2="375.6" stroke="#777" stroke-width="0.7" stroke-dasharray="1 0.6"/>
<line x1="197.1" y1="318.3" x2="204.1" y2="318.3" stroke="#4a4a4a" stroke-width="0.8"/>
<line x1="197.1" y1="375.6" x2="204.1" y2="375.6" stroke="#4a4a4a" stroke-width="0.8"/>
<rect x="194.1" y="344.1" width="13" height="14.8" fill="#f58c1e"/>
<line x1="194.1" y1="351.5" x2="207.1" y2="351.5" stroke="#6a3a08" stroke-width="0.85"/>
<text x="200.6" y="385.7" font-size="3.2" text-anchor="middle" fill="#7a7a7a">Stage1</text>
<text x="200.6" y="389.6" font-size="3.2" text-anchor="middle" fill="#7a7a7a">(n=275)</text>
<line x1="225.75" y1="314.6" x2="225.75" y2="375.6" stroke="#555" stroke-width="0.7" stroke-dasharray="1 0.6"/>
<line x1="222.25" y1="314.6" x2="229.25" y2="314.6" stroke="#4a4a4a" stroke-width="0.8"/>
<line x1="222.25" y1="375.6" x2="229.25" y2="375.6" stroke="#4a4a4a" stroke-width="0.8"/>
<rect x="219.4" y="344.9" width="12.7" height="15.2" fill="#b46e37"/>
<line x1="219.4" y1="352.2" x2="232.1" y2="352.2" stroke="#4a2a10" stroke-width="0.85"/>
<text x="225.75" y="385.7" font-size="3.2" text-anchor="middle" fill="#7a7a7a">Stage2</text>
<text x="225.75" y="389.6" font-size="3.2" text-anchor="middle" fill="#7a7a7a">(n=125)</text>
<line x1="250.25" y1="303.6" x2="250.25" y2="370.2" stroke="#8a8a8a" stroke-width="0.7"/>
<line x1="246.75" y1="303.6" x2="253.75" y2="303.6" stroke="#4a4a4a" stroke-width="0.8"/>
<line x1="246.75" y1="370.2" x2="253.75" y2="370.2" stroke="#4a4a4a" stroke-width="0.8"/>
<rect x="244.1" y="335.8" width="12.3" height="23.1" fill="#aad714"/>
<line x1="244.1" y1="347.3" x2="256.4" y2="347.3" stroke="#3a4a05" stroke-width="0.85"/>
<text x="250.25" y="385.7" font-size="3.2" text-anchor="middle" fill="#7a7a7a">Stage3</text>
<text x="250.25" y="389.6" font-size="3.2" text-anchor="middle" fill="#7a7a7a">(n=85)</text>
<line x1="275" y1="317.1" x2="275" y2="365.7" stroke="#777" stroke-width="0.7" stroke-dasharray="1 0.6"/>
<line x1="271.5" y1="317.1" x2="278.5" y2="317.1" stroke="#4a4a4a" stroke-width="0.8"/>
<line x1="271.5" y1="365.7" x2="278.5" y2="365.7" stroke="#4a4a4a" stroke-width="0.8"/>
<rect x="269.1" y="336.3" width="11.8" height="20.3" fill="#f53c14"/>
<line x1="269.1" y1="350.5" x2="280.9" y2="350.5" stroke="#6a1a08" stroke-width="0.85"/>
<text x="275" y="385.7" font-size="3.2" text-anchor="middle" fill="#7a7a7a">Stage4</text>
<text x="275" y="389.6" font-size="3.2" text-anchor="middle" fill="#7a7a7a">(n=28)</text>
<text x="213.2" y="397.3" font-size="5" font-weight="bold" textLength="24.6" lengthAdjust="spacingAndGlyphs" fill="#111">TCGA samples</text>
<text transform="translate(303.8,275.9) scale(0.7113,1)" font-size="6.0" word-spacing="1.4" fill="#1a1a1a" stroke="#1a1a1a" stroke-width="0.16">Expression of PLCG1 in LUAD based on individual cancer</text>
<text transform="translate(362.7,281.7) scale(0.8536,1)" font-size="6.0" text-anchor="middle" fill="#1a1a1a" stroke="#1a1a1a" stroke-width="0.16">stages</text>
<path d="M306.5 290.3V380.4H431.7" stroke="#8a8a8a" stroke-width="0.65" fill="none"/>
<line x1="303.7" y1="290.3" x2="306.5" y2="290.3" stroke="#888" stroke-width="0.55"/>
<text x="302.9" y="291.65" font-size="3.9" text-anchor="end" fill="#6a6a6a">60</text>
<line x1="303.7" y1="305.33" x2="306.5" y2="305.33" stroke="#888" stroke-width="0.55"/>
<text x="302.9" y="306.68" font-size="3.9" text-anchor="end" fill="#6a6a6a">50</text>
<line x1="303.7" y1="320.37" x2="306.5" y2="320.37" stroke="#888" stroke-width="0.55"/>
<text x="302.9" y="321.72" font-size="3.9" text-anchor="end" fill="#6a6a6a">40</text>
<line x1="303.7" y1="335.4" x2="306.5" y2="335.4" stroke="#888" stroke-width="0.55"/>
<text x="302.9" y="336.75" font-size="3.9" text-anchor="end" fill="#6a6a6a">30</text>
<line x1="303.7" y1="350.43" x2="306.5" y2="350.43" stroke="#888" stroke-width="0.55"/>
<text x="302.9" y="351.78" font-size="3.9" text-anchor="end" fill="#6a6a6a">20</text>
<line x1="303.7" y1="365.47" x2="306.5" y2="365.47" stroke="#888" stroke-width="0.55"/>
<text x="302.9" y="366.82" font-size="3.9" text-anchor="end" fill="#6a6a6a">10</text>
<line x1="303.7" y1="380.5" x2="306.5" y2="380.5" stroke="#888" stroke-width="0.55"/>
<text x="302.9" y="381.85" font-size="3.9" text-anchor="end" fill="#6a6a6a">0</text>
<text transform="translate(296.4,335) rotate(-90)" font-size="4.4" font-weight="bold" text-anchor="middle" fill="#111" stroke="#111" stroke-width="0.12" textLength="41" lengthAdjust="spacingAndGlyphs">Transcript per million</text>
<line x1="318.8" y1="290.1" x2="369.6" y2="290.1" stroke="#444" stroke-width="0.9"/>
<text x="342.2" y="290.6" font-size="7.5" font-weight="bold" text-anchor="middle" fill="#333">*</text>
<line x1="318.8" y1="297.3" x2="348.6" y2="297.3" stroke="#444" stroke-width="0.9"/>
<text x="331.7" y="297.8" font-size="7.5" font-weight="bold" text-anchor="middle" fill="#333">**</text>
<line x1="319.6" y1="323.6" x2="319.6" y2="372.5" stroke="#888" stroke-width="0.7" stroke-dasharray="1 0.6"/>
<line x1="316.1" y1="323.6" x2="323.1" y2="323.6" stroke="#4a4a4a" stroke-width="0.8"/>
<line x1="316.1" y1="372.5" x2="323.1" y2="372.5" stroke="#4a4a4a" stroke-width="0.8"/>
<rect x="313.5" y="338" width="12.2" height="20.1" fill="#4c62ee"/>
<line x1="313.5" y1="349" x2="325.7" y2="349" stroke="#2a2f6a" stroke-width="0.85"/>
<text x="319.6" y="385.7" font-size="3.2" text-anchor="middle" fill="#7a7a7a">Normal</text>
<text x="319.6" y="389.8" font-size="3.2" text-anchor="middle" fill="#7a7a7a">(n=59)</text>
<line x1="344.7" y1="301.7" x2="344.7" y2="376.3" stroke="#777" stroke-width="0.7" stroke-dasharray="1 0.6"/>
<line x1="341.2" y1="301.7" x2="348.2" y2="301.7" stroke="#4a4a4a" stroke-width="0.8"/>
<line x1="341.2" y1="376.3" x2="348.2" y2="376.3" stroke="#4a4a4a" stroke-width="0.8"/>
<rect x="338.6" y="334.6" width="12.2" height="20.4" fill="#f58c1e"/>
<line x1="338.6" y1="345.6" x2="350.8" y2="345.6" stroke="#6a3a08" stroke-width="0.85"/>
<text x="344.7" y="385.7" font-size="3.2" text-anchor="middle" fill="#7a7a7a">Stage1</text>
<text x="344.7" y="389.8" font-size="3.2" text-anchor="middle" fill="#7a7a7a">(n=275)</text>
<line x1="369.75" y1="307.9" x2="369.75" y2="374.7" stroke="#555" stroke-width="0.7" stroke-dasharray="1 0.6"/>
<line x1="366.25" y1="307.9" x2="373.25" y2="307.9" stroke="#4a4a4a" stroke-width="0.8"/>
<line x1="366.25" y1="374.7" x2="373.25" y2="374.7" stroke="#4a4a4a" stroke-width="0.8"/>
<rect x="363.6" y="335.5" width="12.3" height="19.5" fill="#b46e37"/>
<line x1="363.6" y1="345.6" x2="375.9" y2="345.6" stroke="#4a2a10" stroke-width="0.85"/>
<text x="369.75" y="385.7" font-size="3.2" text-anchor="middle" fill="#7a7a7a">Stage2</text>
<text x="369.75" y="389.8" font-size="3.2" text-anchor="middle" fill="#7a7a7a">(n=125)</text>
<line x1="394.8" y1="315.2" x2="394.8" y2="376.3" stroke="#8a8a8a" stroke-width="0.7"/>
<line x1="391.3" y1="315.2" x2="398.3" y2="315.2" stroke="#4a4a4a" stroke-width="0.8"/>
<line x1="391.3" y1="376.3" x2="398.3" y2="376.3" stroke="#4a4a4a" stroke-width="0.8"/>
<rect x="388.7" y="340.2" width="12.2" height="16.6" fill="#aad714"/>
<line x1="388.7" y1="349" x2="400.9" y2="349" stroke="#3a4a05" stroke-width="0.85"/>
<text x="394.8" y="385.7" font-size="3.2" text-anchor="middle" fill="#7a7a7a">Stage3</text>
<text x="394.8" y="389.8" font-size="3.2" text-anchor="middle" fill="#7a7a7a">(n=85)</text>
<line x1="419.75" y1="337.1" x2="419.75" y2="370" stroke="#777" stroke-width="0.7" stroke-dasharray="1 0.6"/>
<line x1="416.25" y1="337.1" x2="423.25" y2="337.1" stroke="#4a4a4a" stroke-width="0.8"/>
<line x1="416.25" y1="370" x2="423.25" y2="370" stroke="#4a4a4a" stroke-width="0.8"/>
<rect x="413.5" y="349.6" width="12.5" height="10.1" fill="#f53c14"/>
<line x1="413.5" y1="353.7" x2="426" y2="353.7" stroke="#6a1a08" stroke-width="0.85"/>
<text x="419.75" y="385.7" font-size="3.2" text-anchor="middle" fill="#7a7a7a">Stage4</text>
<text x="419.75" y="389.8" font-size="3.2" text-anchor="middle" fill="#7a7a7a">(n=28)</text>
<path d="M5.3 17.6 L10.45 3.9 L16.5 17.6 M7.4 12.4 H14.3" stroke="#111" stroke-width="1.15" fill="none" stroke-linejoin="round"/>
<path d="M10.3 408.6 V422.3 H15.2 Q19.1 422.3 19.1 418.55 Q19.1 414.8 15.2 414.8 H10.3 M10.3 408.6 H14.8 Q18.4 408.6 18.4 411.7 Q18.4 414.8 14.8 414.8" stroke="#111" stroke-width="1.25" fill="none" stroke-linejoin="round"/>
<path d="M225.80 413.72 A6.2 7.5 0 1 0 225.62 422.21" stroke="#111" stroke-width="1.15" fill="none"/>
<text x="319.5" y="12.2" font-size="7.6" fill="#222" textLength="93.5" lengthAdjust="spacingAndGlyphs">***  p&lt;0.001, **  p&lt;0.01 ,*  p&lt;0.05</text>
<line x1="62.26" y1="402.8" x2="62.26" y2="529.2" stroke="#dcdcdc" stroke-width="0.6"/>
<line x1="83.02" y1="402.8" x2="83.02" y2="529.2" stroke="#dcdcdc" stroke-width="0.6"/>
<line x1="103.78" y1="402.8" x2="103.78" y2="529.2" stroke="#dcdcdc" stroke-width="0.6"/>
<line x1="124.54" y1="402.8" x2="124.54" y2="529.2" stroke="#dcdcdc" stroke-width="0.6"/>
<line x1="145.3" y1="402.8" x2="145.3" y2="529.2" stroke="#dcdcdc" stroke-width="0.6"/>
<line x1="41.5" y1="503.92" x2="145.3" y2="503.92" stroke="#dcdcdc" stroke-width="0.6"/>
<line x1="41.5" y1="478.64" x2="145.3" y2="478.64" stroke="#dcdcdc" stroke-width="0.6"/>
<line x1="41.5" y1="453.36" x2="145.3" y2="453.36" stroke="#dcdcdc" stroke-width="0.6"/>
<line x1="41.5" y1="428.08" x2="145.3" y2="428.08" stroke="#dcdcdc" stroke-width="0.6"/>
<line x1="41.5" y1="402.8" x2="145.3" y2="402.8" stroke="#dcdcdc" stroke-width="0.6"/>
<path d="M41.5 402.8V529.2H145.3" stroke="#999" stroke-width="0.6" fill="none"/>
<text x="39.5" y="530.3" font-size="3.3" text-anchor="end" fill="#444">0.0</text>
<text x="41.5" y="534.7" font-size="3.3" text-anchor="middle" fill="#444">0.0</text>
<text x="39.5" y="505.02" font-size="3.3" text-anchor="end" fill="#444">0.2</text>
<text x="62.26" y="534.7" font-size="3.3" text-anchor="middle" fill="#444">0.2</text>
<text x="39.5" y="479.74" font-size="3.3" text-anchor="end" fill="#444">0.4</text>
<text x="83.02" y="534.7" font-size="3.3" text-anchor="middle" fill="#444">0.4</text>
<text x="39.5" y="454.46" font-size="3.3" text-anchor="end" fill="#444">0.6</text>
<text x="103.78" y="534.7" font-size="3.3" text-anchor="middle" fill="#444">0.6</text>
<text x="39.5" y="429.18" font-size="3.3" text-anchor="end" fill="#444">0.8</text>
<text x="124.54" y="534.7" font-size="3.3" text-anchor="middle" fill="#444">0.8</text>
<text x="39.5" y="403.9" font-size="3.3" text-anchor="end" fill="#444">1.0</text>
<text x="145.3" y="534.7" font-size="3.3" text-anchor="middle" fill="#444">1.0</text>
<path d="M41.5 529.2 L145.3 402.8" stroke="#55ccb4" stroke-width="0.8" fill="none" stroke-linejoin="round"/>
<path d="M41.5 525.91 L62.88 525.91 L62.88 523.64 L71.19 523.64 L71.19 521.74 L80.84 521.74 L80.84 518.96 L80.84 516.31 L83.54 516.31 L93.19 516.31 L93.19 514.41 L93.19 513.53 L104.09 513.53 L104.09 509.99 L112.4 509.99 L112.4 507.21 L112.4 505.31 L120.6 505.31 L120.6 502.53 L124.75 502.53 L124.75 499.75 L130.25 499.75 L130.25 495.7 L130.25 494.31 L137.1 494.31 L137.1 487.49 L138.45 487.49 L138.45 480.66 L139.8 480.66 L139.8 462.08 L141.46 462.08 L141.46 442.62 L142.29 442.62 L142.29 440.34 L143.74 440.34 L143.74 409.88 L145.3 409.88 L145.3 402.8" stroke="#a9c8f0" stroke-width="0.8" fill="none" stroke-linejoin="round"/>
<path d="M41.5 529.2 L41.5 509.73 L41.5 508.85 L42.85 508.85 L42.85 504.8 L42.85 503.92 L44.2 503.92 L44.2 490.77 L44.2 481.04 L45.03 481.04 L45.03 472.83 L45.86 472.83 L45.86 465.37 L46.69 465.37 L46.69 456.39 L47.52 456.39 L47.52 448.18 L48.35 448.18 L48.35 444.89 L49.08 444.89 L51.57 444.89 L51.57 428.08 L51.57 423.4 L55.62 423.4 L55.62 419.23 L57.69 419.23 L57.69 415.82 L59.66 415.82 L59.66 415.19 L63.82 415.19 L63.82 411.65 L64.54 411.65 L64.54 408.24 L67.24 408.24 L74.09 408.24 L74.09 406.21 L74.82 406.21 L74.82 404.19 L77.62 404.19 L95.68 404.19 L95.68 402.8" stroke="#ea6a88" stroke-width="0.8" fill="none" stroke-linejoin="round"/>
<path d="M41.5 529.2 L41.5 486.73 L41.5 484.33 L42.85 484.33 L42.85 478.51 L43.37 478.51 L43.37 471.94 L45.03 471.94 L45.03 464.61 L45.86 464.61 L51.57 464.61 L51.57 461.32 L51.57 455.64 L52.4 455.64 L52.4 451.46 L53.23 451.46 L53.23 448.18 L57.28 448.18 L57.28 443.25 L58.94 443.25 L58.94 438.44 L61.84 438.44 L61.84 437.81 L67.97 437.81 L67.97 435.03 L70.67 435.03 L70.67 433.01 L74.82 433.01 L74.82 431.62 L83.02 431.62 L83.02 429.6 L87.17 429.6 L87.17 428.46 L90.91 428.46 L90.91 426.31 L94.65 426.31 L94.65 425.55 L102.85 425.55 L102.85 421 L104.3 421 L104.3 420.24 L112.5 420.24 L112.5 416.96 L113.23 416.96 L116.96 416.58 L116.96 413.29 L117.69 413.29 L132.53 413.29 L132.53 410.64 L135.54 410.64 L135.54 407.73 L139.28 407.73 L139.28 402.8 L145.3 402.8" stroke="#8ec487" stroke-width="0.8" fill="none" stroke-linejoin="round"/>
<path d="M41.5 529.2 L41.5 495.7 L41.5 490.77 L42.54 490.77 L42.54 479.27 L43.89 479.27 L43.89 472.83 L45.03 472.83 L45.03 462.97 L45.86 462.97 L45.86 455.64 L47.52 455.64 L47.52 451.46 L49.08 451.46 L52.19 451.46 L52.19 450.2 L52.81 450.2 L52.81 449.57 L59.66 449.57 L59.66 448.81 L61.12 448.81 L63.82 448.81 L63.82 446.03 L66.62 446.03 L66.62 443.25 L70.05 443.25 L70.05 441.86 L74.82 441.86 L74.82 439.2 L77.62 439.2 L77.62 438.44 L81.67 438.44 L81.67 436.42 L84.37 436.42 L84.37 435.03 L89.87 435.03 L89.87 433.39 L93.19 433.39 L109.49 433.39 L109.49 424.79 L110.32 424.79 L110.32 424.04 L114.68 424.04 L114.68 421.76 L116.96 421.76 L116.96 420.24 L123.71 420.24 L123.71 416.58 L125.89 416.58 L125.89 415.06 L129.63 415.06 L132.53 414.68 L132.53 409.25 L137.1 409.25 L137.1 406.21 L141.46 406.21 L141.46 404.06 L145.3 404.06" stroke="#f7a686" stroke-width="0.8" fill="none" stroke-linejoin="round"/>
<path d="M41.5 529.2 L41.5 421.25 L41.5 415.82 L42.54 415.82 L42.54 411.02 L43.47 411.02 L43.47 406.84 L44.61 406.84 L44.61 404.19 L45.96 404.19 L59.66 404.19 L59.66 402.8 L145.3 402.8" stroke="#eeea8c" stroke-width="0.8" fill="none" stroke-linejoin="round"/>
<line x1="172" y1="415.7" x2="178.4" y2="415.7" stroke="#a9c8f0" stroke-width="0.8"/>
<text transform="translate(179.8,417.3) scale(0.8,1)" font-size="4.7" fill="#222" stroke="#222" stroke-width="0.05">MLXL</text>
<line x1="172" y1="421.5" x2="178.4" y2="421.5" stroke="#ea6a88" stroke-width="0.8"/>
<text transform="translate(179.8,423.1) scale(0.8,1)" font-size="4.7" fill="#222" stroke="#222" stroke-width="0.05">TRAF2</text>
<line x1="172" y1="427.4" x2="178.4" y2="427.4" stroke="#8ec487" stroke-width="0.8"/>
<text transform="translate(179.8,429) scale(0.8,1)" font-size="4.7" fill="#222" stroke="#222" stroke-width="0.05">PANK1</text>
<line x1="172" y1="432.9" x2="178.4" y2="432.9" stroke="#f7a686" stroke-width="0.8"/>
<text transform="translate(179.8,434.5) scale(0.8,1)" font-size="4.7" fill="#222" stroke="#222" stroke-width="0.05">PMAIP1</text>
<line x1="172" y1="438.4" x2="178.4" y2="438.4" stroke="#f0d060" stroke-width="0.8"/>
<text transform="translate(179.8,440) scale(0.8,1)" font-size="4.7" fill="#222" stroke="#222" stroke-width="0.05">Prediction</text>
<line x1="172" y1="443.9" x2="178.4" y2="443.9" stroke="#55ccb4" stroke-width="0.8"/>
<text transform="translate(179.8,445.5) scale(0.8,1)" font-size="4.7" fill="#222" stroke="#222" stroke-width="0.05">Reference line</text>
<text x="102" y="401.1" font-size="5.5" font-weight="bold" textLength="22.7" lengthAdjust="spacingAndGlyphs" fill="#222">ROC curve</text>
<text x="80.2" y="546" font-size="5.6" font-weight="bold" textLength="27.9" lengthAdjust="spacingAndGlyphs" fill="#111" stroke="#111" stroke-width="0.1">1 - Specificity</text>
<text transform="translate(32,465.4) rotate(-90)" font-size="4.6" font-weight="bold" text-anchor="middle" textLength="27" lengthAdjust="spacingAndGlyphs" fill="#222">Sensitivity</text>
<line x1="278.82" y1="403.2" x2="278.82" y2="530" stroke="#dcdcdc" stroke-width="0.6"/>
<line x1="300.14" y1="403.2" x2="300.14" y2="530" stroke="#dcdcdc" stroke-width="0.6"/>
<line x1="321.46" y1="403.2" x2="321.46" y2="530" stroke="#dcdcdc" stroke-width="0.6"/>
<line x1="342.78" y1="403.2" x2="342.78" y2="530" stroke="#dcdcdc" stroke-width="0.6"/>
<line x1="364.1" y1="403.2" x2="364.1" y2="530" stroke="#dcdcdc" stroke-width="0.6"/>
<line x1="257.5" y1="504.64" x2="364.1" y2="504.64" stroke="#dcdcdc" stroke-width="0.6"/>
<line x1="257.5" y1="479.28" x2="364.1" y2="479.28" stroke="#dcdcdc" stroke-width="0.6"/>
<line x1="257.5" y1="453.92" x2="364.1" y2="453.92" stroke="#dcdcdc" stroke-width="0.6"/>
<line x1="257.5" y1="428.56" x2="364.1" y2="428.56" stroke="#dcdcdc" stroke-width="0.6"/>
<line x1="257.5" y1="403.2" x2="364.1" y2="403.2" stroke="#dcdcdc" stroke-width="0.6"/>
<path d="M257.5 403.2V530H364.1" stroke="#999" stroke-width="0.6" fill="none"/>
<text x="255.5" y="531.1" font-size="3.3" text-anchor="end" fill="#444">0.0</text>
<text x="257.5" y="535.5" font-size="3.3" text-anchor="middle" fill="#444">0.0</text>
<text x="255.5" y="505.74" font-size="3.3" text-anchor="end" fill="#444">0.2</text>
<text x="278.82" y="535.5" font-size="3.3" text-anchor="middle" fill="#444">0.2</text>
<text x="255.5" y="480.38" font-size="3.3" text-anchor="end" fill="#444">0.4</text>
<text x="300.14" y="535.5" font-size="3.3" text-anchor="middle" fill="#444">0.4</text>
<text x="255.5" y="455.02" font-size="3.3" text-anchor="end" fill="#444">0.6</text>
<text x="321.46" y="535.5" font-size="3.3" text-anchor="middle" fill="#444">0.6</text>
<text x="255.5" y="429.66" font-size="3.3" text-anchor="end" fill="#444">0.8</text>
<text x="342.78" y="535.5" font-size="3.3" text-anchor="middle" fill="#444">0.8</text>
<text x="255.5" y="404.3" font-size="3.3" text-anchor="end" fill="#444">1.0</text>
<text x="364.1" y="535.5" font-size="3.3" text-anchor="middle" fill="#444">1.0</text>
<path d="M257.5 530 L364.1 403.2" stroke="#55ccb4" stroke-width="0.8" fill="none" stroke-linejoin="round"/>
<path d="M257.5 530 L299.71 529.75 L315.81 528.86 L325.4 528.1 L331.91 525.69 L339.9 523.28 L341.5 520.87 L345.55 516.05 L348 504.89 L352.8 493.61 L356.85 479.28 L359.3 468.12 L360.48 460.26 L362.61 448.21 L364.1 427.29 L364.1 403.2" stroke="#8cc884" stroke-width="0.8" fill="none" stroke-linejoin="round"/>
<path d="M257.5 530 L258.03 491.96 L258.78 470.4 L260.38 447.96 L261.44 439.21 L263.58 431.48 L266.35 429.45 L269.65 425.01 L272.53 422.22 L276.15 419.43 L279.78 415.25 L285 412.46 L287.67 412.08 L294.17 410.43 L300.57 408.78 L309.63 407.26 L315.81 405.74 L325.4 404.47 L342.25 403.2 L364.1 403.2" stroke="#f7a686" stroke-width="0.8" fill="none" stroke-linejoin="round"/>
<path d="M257.5 530 L258.78 508.44 L259.63 491.96 L260.38 479.91 L261.44 478.39 L263.15 469.64 L263.58 463.18 L265.28 456.58 L266.35 451.26 L267.95 446.31 L269.65 444.66 L271.25 435.91 L273.38 429.45 L276.15 425.01 L278.82 419.43 L285 415.25 L290.87 410.43 L294.92 408.02 L300.57 405.61 L309.63 404.85 L321.46 403.83 L342.78 403.2 L364.1 403.2" stroke="#ea6a88" stroke-width="0.8" fill="none" stroke-linejoin="round"/>
<path d="M257.5 530 L258.46 500.08 L259.63 480.93 L259.85 457.72 L260.91 444.66 L263.15 433.76 L266.35 426.15 L267.95 419.43 L270.61 414.36 L273.38 412.08 L276.15 406.5 L278.82 403.83 L279.78 403.2 L364.1 403.2" stroke="#a9c8f0" stroke-width="0.8" fill="none" stroke-linejoin="round"/>
<path d="M257.5 530 L257.5 470.4 L258.03 441.24 L258.67 422.22 L259.63 415.63 L261.44 412.08 L264.64 408.78 L266.99 407 L269.33 405.61 L270.61 403.2 L364.1 403.2" stroke="#eeea8c" stroke-width="0.8" fill="none" stroke-linejoin="round"/>
<line x1="391.4" y1="416.1" x2="397.5" y2="416.1" stroke="#a9c8f0" stroke-width="0.8"/>
<text transform="translate(399.1,417.7) scale(0.8,1)" font-size="4.7" fill="#222" stroke="#222" stroke-width="0.05">PMAIP1</text>
<line x1="391.4" y1="421.8" x2="397.5" y2="421.8" stroke="#ea6a88" stroke-width="0.8"/>
<text transform="translate(399.1,423.4) scale(0.8,1)" font-size="4.7" fill="#222" stroke="#222" stroke-width="0.05">PANK1</text>
<line x1="391.4" y1="427.6" x2="397.5" y2="427.6" stroke="#8ec487" stroke-width="0.8"/>
<text transform="translate(399.1,429.2) scale(0.8,1)" font-size="4.7" fill="#222" stroke="#222" stroke-width="0.05">MLXL</text>
<line x1="391.4" y1="432.9" x2="397.5" y2="432.9" stroke="#f7a686" stroke-width="0.8"/>
<text transform="translate(399.1,434.5) scale(0.8,1)" font-size="4.7" fill="#222" stroke="#222" stroke-width="0.05">TRAF2</text>
<line x1="391.4" y1="439.1" x2="397.5" y2="439.1" stroke="#f0d060" stroke-width="0.8"/>
<text transform="translate(399.1,440.7) scale(0.8,1)" font-size="4.7" fill="#222" stroke="#222" stroke-width="0.05">Prediction</text>
<line x1="391.4" y1="444.9" x2="397.5" y2="444.9" stroke="#55ccb4" stroke-width="0.8"/>
<text transform="translate(399.1,446.5) scale(0.8,1)" font-size="4.7" fill="#222" stroke="#222" stroke-width="0.05">Reference line</text>
<text x="319.5" y="401" font-size="5.5" font-weight="bold" textLength="22.9" lengthAdjust="spacingAndGlyphs" fill="#222">ROC curve</text>
<text x="296.4" y="546.1" font-size="5.6" font-weight="bold" textLength="29.2" lengthAdjust="spacingAndGlyphs" fill="#111" stroke="#111" stroke-width="0.1">1 - Specificity</text>
<text transform="translate(247.5,466.8) rotate(-90)" font-size="4.6" font-weight="bold" text-anchor="middle" textLength="24" lengthAdjust="spacingAndGlyphs" fill="#222">Sensitive</text>
</svg></body></html>
